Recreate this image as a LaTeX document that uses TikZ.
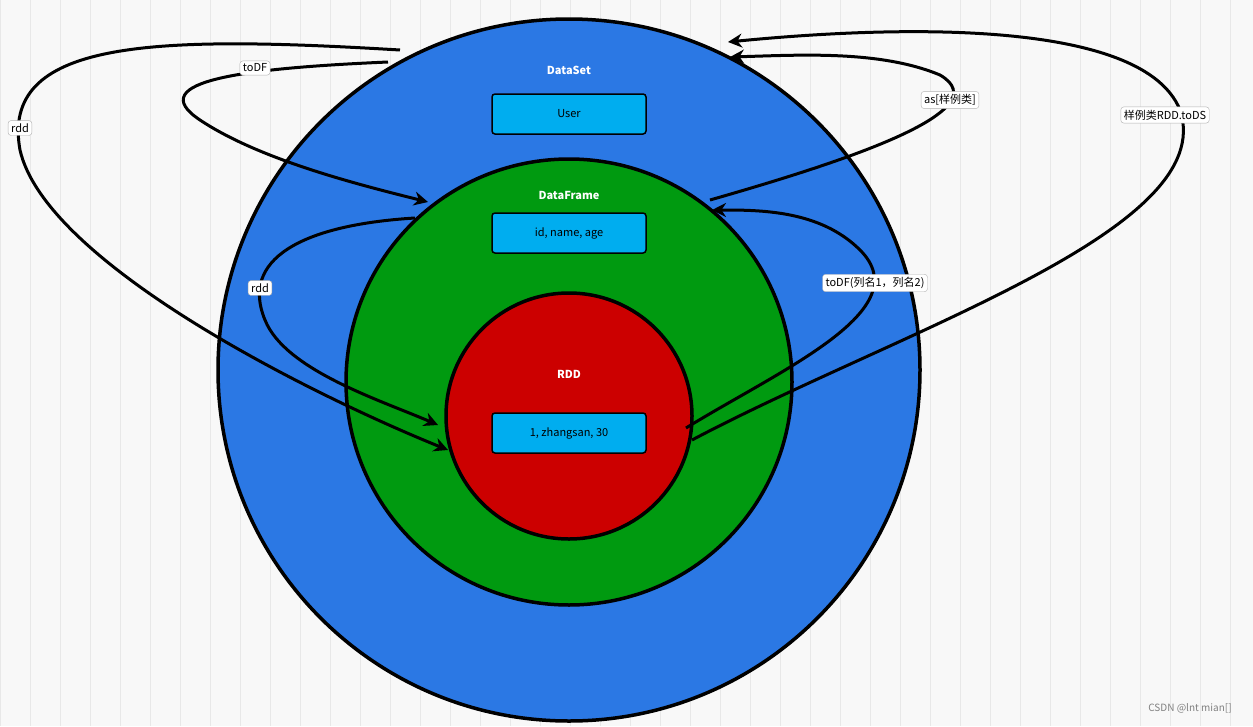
\documentclass[tikz,border=0pt]{standalone}
\usepackage{fontspec}
\setmainfont{Noto Sans CJK SC}
\usetikzlibrary{arrows.meta}
\definecolor{bg}{HTML}{F8F8F8}
\definecolor{gridc}{HTML}{E8E8E8}
\definecolor{dsblue}{HTML}{2B78E4}
\definecolor{dfgreen}{HTML}{009A10}
\definecolor{rddred}{HTML}{CC0000}
\begin{document}
\begin{tikzpicture}[x=1pt,y=-1pt,
  ring/.style={draw=black,line width=3.5pt},
  title/.style={text=white,font=\bfseries\fontsize{11}{13}\selectfont},
  box/.style={draw=black,line width=1.5pt,fill=cyan,rounded corners=3pt,minimum width=154pt,minimum height=40pt,font=\fontsize{11}{13}\selectfont},
  lab/.style={draw=gray!60,fill=white,rounded corners=3pt,inner sep=3pt,font=\fontsize{11}{13}\selectfont},
  arr/.style={line width=3pt,-{Stealth[length=14pt,width=14pt]}}]
\useasboundingbox (0,0) rectangle (1253,726);
\fill[bg] (0,0) rectangle (1253,726);
\draw[gridc,line width=0.5pt] (0,0) grid[step=30] (1253,726);
\node[ring,circle,fill=dsblue,minimum size=702pt] (ds) at (569,370) {};
\node[ring,circle,fill=dfgreen,minimum size=446pt] (df) at (569,382) {};
\node[ring,circle,fill=rddred,minimum size=246pt] (rdd) at (569,416) {};
\node[title] (tds) at (569,70) {DataSet};
\node[title] (tdf) at (569,195) {DataFrame};
\node[title] (trdd) at (569,374) {RDD};
\node[box] (user) at (569,114) {User};
\node[box] (cols) at (569,233) {id, name, age};
\node[box] (row) at (569,433) {1, zhangsan, 30};
\coordinate (s1) at (400,50);
\coordinate (s2) at (388,62);
\coordinate (s3) at (415,218);
\coordinate (s4) at (686,428);
\coordinate (s5) at (710,200);
\coordinate (s6) at (692,440);
\draw[arr] (s1) .. controls (150,35) and (0,40) .. (20,150) .. controls (45,260) and (300,390) .. (448,450);
\draw[arr] (s2) .. controls (250,68) and (140,80) .. (200,120) .. controls (260,160) and (360,185) .. (428,202);
\draw[arr] (s3) .. controls (300,225) and (240,260) .. (265,320) .. controls (285,370) and (380,400) .. (438,425);
\draw[arr] (s4) .. controls (780,370) and (920,310) .. (860,250) .. controls (820,210) and (760,210) .. (712,210);
\draw[arr] (s5) .. controls (850,160) and (1000,110) .. (940,75) .. controls (880,50) and (800,55) .. (730,57);
\draw[arr] (s6) .. controls (900,330) and (1220,230) .. (1180,110) .. controls (1140,10) and (850,30) .. (728,42);
\node[lab] (l1) at (20,128) {rdd};
\node[lab] (l2) at (255,68) {toDF};
\node[lab] (l3) at (260,288) {rdd};
\node[lab] (l4) at (875,283) {toDF(列名1，列名2)};
\node[lab] (l5) at (950,100) {as[样例类]};
\node[lab] (l6) at (1165,115) {样例类RDD.toDS};
\node[text=gray,font=\fontsize{10}{12}\selectfont] (wm) at (1190,708) {CSDN @lnt mian[]};
\end{tikzpicture}
\end{document}
